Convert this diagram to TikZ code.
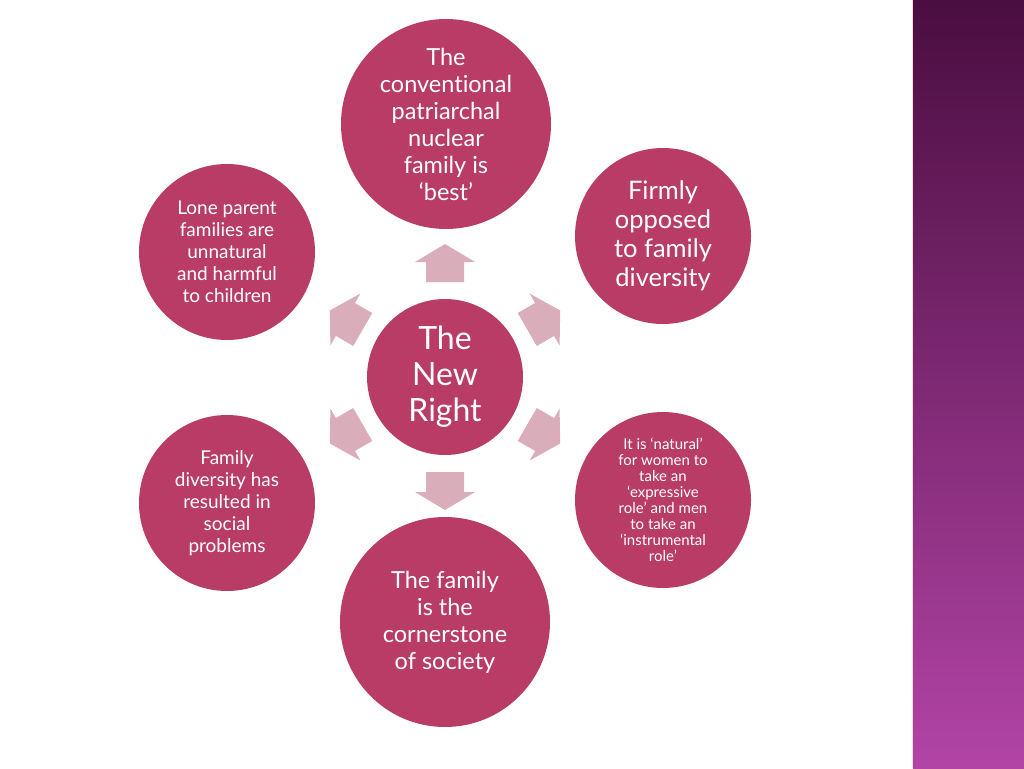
\documentclass[tikz,border=0pt]{standalone}
\usepackage{fontspec}
\setmainfont[Ligatures={NoCommon,NoRare}]{Lato}
\definecolor{circ}{HTML}{B83C66}
\definecolor{arr}{HTML}{D9AEBA}
\definecolor{stripTop}{HTML}{4A0E40}
\definecolor{stripBot}{HTML}{B244A6}
\begin{document}
\begin{tikzpicture}[x=1pt,y=-1pt,
  bub/.style={circle,fill=circ,text=white,align=center,inner sep=0pt,font=#1},
  bub/.default=\fontsize{18}{22}\selectfont]
\useasboundingbox (0,0) rectangle (1024,768);
\fill[white] (0,0) rectangle (1024,768);
\shade[top color=stripTop,bottom color=stripBot] (913,0) rectangle (1024,768);
\fill[pink!60] (911.5,0) rectangle (913,768);
\node[bub=\fontsize{32}{36}\selectfont,minimum size=156] (c) at (445,377) {The\\New\\Right};
\node[bub=\fontsize{23.5}{27}\selectfont,minimum size=210] (t) at (446,124) {The\\conventional\\patriarchal\\nuclear\\family is\\‘best’};
\node[bub=\fontsize{25.5}{29}\selectfont,minimum size=176] (tr) at (663,236) {Firmly\\opposed\\to family\\diversity};
\node[bub=\fontsize{15}{16}\selectfont,minimum size=176] (br) at (663,500) {It is ‘natural’\\for women to\\take an\\‘expressive\\role’ and men\\to take an\\‘instrumental\\role’};
\node[bub=\fontsize{23.5}{27}\selectfont,minimum size=210] (b) at (445,622) {The family\\is the\\cornerstone\\of society};
\node[bub=\fontsize{19}{22}\selectfont,minimum size=176] (bl) at (227,503) {Family\\diversity has\\resulted in\\social\\problems};
\node[bub=\fontsize{19}{22}\selectfont,minimum size=176] (tl) at (227,252) {Lone parent\\families are\\unnatural\\and harmful\\to children};
\foreach \a in {90,30,-30,-90,150,210}{
  \begin{scope}[shift={(c)},rotate=-\a,shift={(114,0)}]
    \fill[arr] (-19,-19) -- (1,-19) -- (1,-30) -- (19,0) -- (1,30) -- (1,19) -- (-19,19) -- cycle;
  \end{scope}}
\end{tikzpicture}
\end{document}
